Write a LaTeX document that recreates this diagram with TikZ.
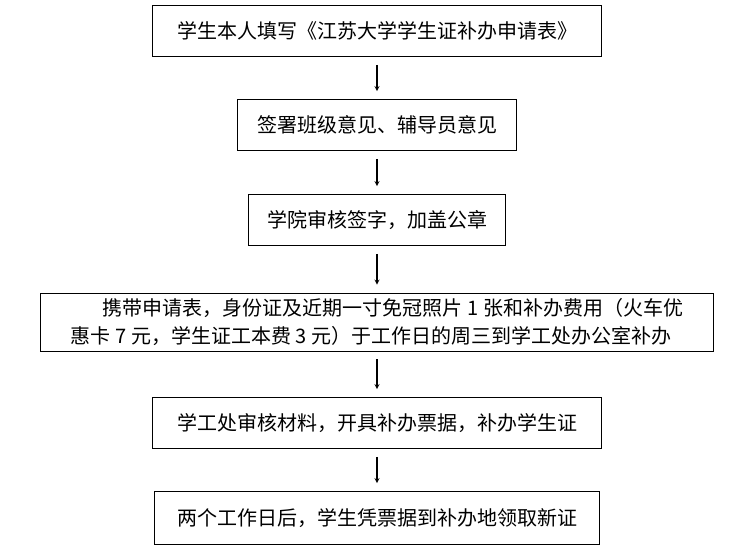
\documentclass[tikz,border=0pt]{standalone}
\usepackage{fontspec}
\setmainfont{Noto Sans CJK SC}
\begin{document}
\begin{tikzpicture}[x=1pt,y=-1pt,
  stepbox/.style={draw,line width=0.8pt,minimum height=51pt,inner sep=6pt,font=\fontsize{20}{28}\selectfont},
  flow/.style={->,line width=1.2pt,>=stealth,shorten <=8pt,shorten >=8pt}]
\useasboundingbox (0,0) rectangle (753,557);
\node[stepbox,minimum width=449pt] (fill) at (377,31) {学生本人填写《江苏大学学生证补办申请表》};
\node[stepbox,minimum width=279pt] (sign) at (377,125) {签署班级意见、辅导员意见};
\node[stepbox,minimum width=257pt] (seal) at (377,220) {学院审核签字，加盖公章};
\node[stepbox,minimum width=673pt,minimum height=58pt,inner sep=2pt,align=left] (bring) at (377,322)
  {\hspace*{1.6em}携带申请表，身份证及近期一寸免冠照片 1 张和补办费用（火车优\\惠卡 7 元，学生证工本费 3 元）于工作日的周三到学工处办公室补办};
\node[stepbox,minimum width=449pt] (check) at (377,423) {学工处审核材料，开具补办票据，补办学生证};
\node[stepbox,minimum width=445pt,minimum height=53pt] (get) at (377,518) {两个工作日后，学生凭票据到补办地领取新证};
\draw[flow] (fill) -- (sign);
\draw[flow] (sign) -- (seal);
\draw[flow] (seal) -- (bring);
\draw[flow] (bring) -- (check);
\draw[flow] (check) -- (get);
\end{tikzpicture}
\end{document}
